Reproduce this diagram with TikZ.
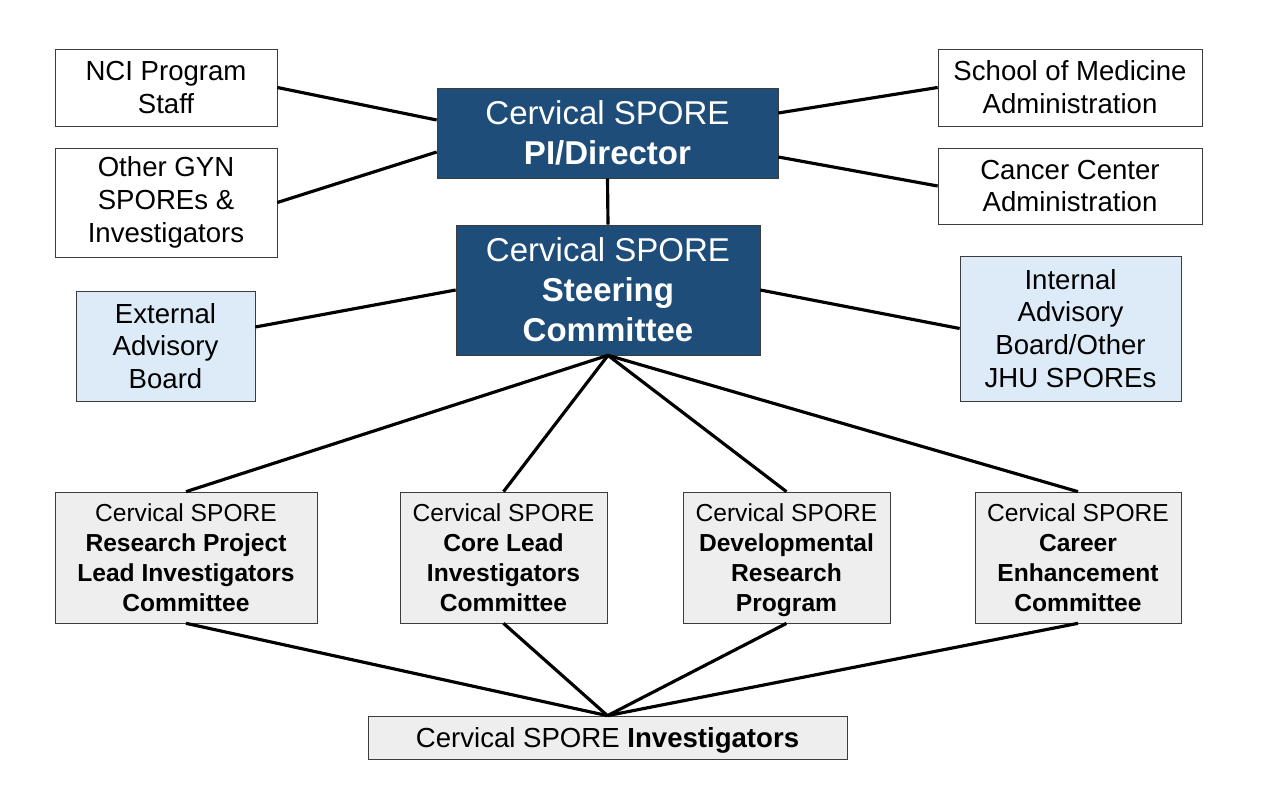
\documentclass[tikz,border=0pt]{standalone}
\usepackage{fontspec}
\usepackage{tikz}
\usepackage{xcolor}
\setsansfont{Liberation Sans}
\usetikzlibrary{positioning, calc}
\definecolor{sporeNavy}{RGB}{31,77,121}
\definecolor{sporeSky}{RGB}{221,235,248}
\definecolor{sporeGray}{RGB}{238,238,238}
\definecolor{sporeEdge}{RGB}{60,60,60}

\begin{document}
\begin{tikzpicture}[x=0.02cm, y=-0.02cm,
      lead/.style={draw=sporeEdge, fill=sporeNavy, text=white, align=center,
      font=\fontsize{18.8}{22.7}\selectfont\sffamily},
      partner/.style={draw=sporeEdge, fill=white, align=center,
      font=\fontsize{15.7}{18.7}\selectfont\sffamily},
      advisory/.style={partner, fill=sporeSky},
      committee/.style={draw=sporeEdge, fill=sporeGray, align=center, minimum height=2.62cm,
      font=\fontsize{14}{17}\selectfont\sffamily, text depth=0pt},
      link/.style={line width=1.8pt, draw=black}
    ]
    \path[use as bounding box, fill=white] (0,0) rectangle (1262,804);

    % top tier
    \node[lead, minimum width=6.82cm, minimum height=1.8cm] (director) at (607.5,133) {Cervical SPORE\\\textbf{PI/Director}};
    \node[lead, minimum width=6.08cm, minimum height=2.6cm] (steering) at (608,290) {Cervical SPORE\\\textbf{Steering}\\\textbf{Committee}};

    \node[partner, minimum width=4.44cm, minimum height=1.54cm] (nci) at (166,87.5) {NCI Program\\Staff};
    \node[partner, minimum width=4.44cm, minimum height=2.18cm] (gyn) at (166,202.5) {Other GYN\\SPOREs \&\\Investigators};
    \node[partner, minimum width=5.28cm, minimum height=1.54cm] (som) at (1070,87.5) {School of Medicine\\Administration};
    \node[partner, minimum width=5.28cm, minimum height=1.52cm] (ccc) at (1070,186) {Cancer Center\\Administration};
    \node[advisory, minimum width=3.58cm, minimum height=2.2cm] (eab) at (165.5,346) {External\\Advisory\\Board};
    \node[advisory, minimum width=4.42cm, minimum height=2.9cm] (iab) at (1070.5,328.5) {Internal\\Advisory\\Board/Other\\JHU SPOREs};

    % committees
    \node[committee, minimum width=5.24cm] (rplic) at (186,557.5) {Cervical SPORE\\\textbf{Research Project}\\\textbf{Lead Investigators}\\\textbf{Committee}};
    \node[committee, minimum width=4.14cm] (clic) at (503.5,557.5) {Cervical SPORE\\\textbf{Core Lead}\\\textbf{Investigators}\\\textbf{Committee}};
    \node[committee, minimum width=4.14cm] (drp) at (786.5,557.5) {Cervical SPORE\\\textbf{Developmental}\\\textbf{Research}\\\textbf{Program}};
    \node[committee, minimum width=4.12cm] (cec) at (1078,557.5) {Cervical SPORE\\\textbf{Career}\\\textbf{Enhancement}\\\textbf{Committee}};

    \node[committee, minimum width=9.58cm, minimum height=0.86cm, font=\fontsize{15.7}{18.7}\selectfont\sffamily] (inv) at (607.5,737.5) {Cervical SPORE \textbf{Investigators}};

    % links
    \draw[link] (nci.east) -- ([yshift=0.26cm]director.west);
    \draw[link] (gyn.east) -- ([yshift=-0.38cm]director.west);
    \draw[link] (som.west) -- ([yshift=0.4cm]director.east);
    \draw[link] (ccc.west) -- ([yshift=-0.48cm]director.east);
    \draw[link] (director.south) -- (steering.north);
    \draw[link] ([yshift=0.38cm]eab.east) -- (steering.west);
    \draw[link] (iab.west) -- (steering.east);

    \foreach \c in {rplic,clic,drp,cec} {
      \draw[link] (steering.south) -- (\c.north);
      \draw[link] (\c.south) -- (inv.north);
    }
  \end{tikzpicture}
\end{document}
